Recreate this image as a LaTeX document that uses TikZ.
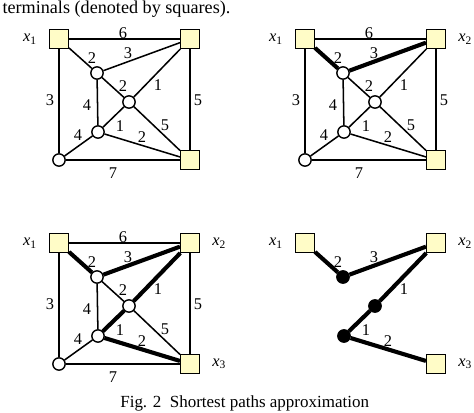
\documentclass[tikz,border=0pt]{standalone}
\usepackage{fontspec}
\setmainfont{Liberation Serif}
\usetikzlibrary{positioning}
\begin{document}
\begin{tikzpicture}[
    term/.style={draw, line width=1.2pt, fill=yellow!22, minimum size=0.56cm, inner sep=0pt},
    hub/.style={draw, line width=1.2pt, circle, fill=white, minimum size=0.37cm, inner sep=0pt},
    hubdot/.style={hub, fill=black},
    wire/.style={line width=1.3pt},
    route/.style={line width=3.5pt},
    lbl/.style={inner sep=0pt, font=\fontsize{14}{16}\selectfont},
    tlbl/.style={inner sep=0pt, font=\fontsize{14}{16}\selectfont}
  ]
  \useasboundingbox (0,0) rectangle (14.22,-12.39);

  % the three copies of the full graph
  \foreach \n/\sx/\sy in {1/1.77/-1.17, 2/9.15/-1.17, 3/1.77/-7.29} {
    \begin{scope}[shift={(\sx,\sy)}]
      \node[term] (x1\n) at (0,0) {};
      \node[term] (x2\n) at (3.93,0) {};
      \node[term] (x3\n) at (3.93,-3.63) {};
      \node[hub] (d\n) at (0,-3.63) {};
      \node[hub] (a\n) at (1.14,-1.02) {};
      \node[hub] (b\n) at (2.10,-1.89) {};
      \node[hub] (c\n) at (1.17,-2.79) {};
      \draw[wire] (x1\n) -- (x2\n);
      \draw[wire] (x2\n) -- (x3\n);
      \draw[wire] (x3\n) -- (d\n);
      \draw[wire] (d\n) -- (x1\n);
      \draw[wire] (x1\n) -- (a\n);
      \draw[wire] (a\n) -- (x2\n);
      \draw[wire] (a\n) -- (b\n);
      \draw[wire] (a\n) -- (c\n);
      \draw[wire] (b\n) -- (x2\n);
      \draw[wire] (b\n) -- (x3\n);
      \draw[wire] (c\n) -- (b\n);
      \draw[wire] (c\n) -- (d\n);
      \draw[wire] (c\n) -- (x3\n);
      \foreach \w/\lx/\ly [count=\k] in {6/1.92/0.18, 3/2.07/-0.42, 2/0.99/-0.57,
          2/1.92/-1.41, 1/2.97/-1.38, 3/-0.27/-1.83, 4/0.84/-1.98, 5/4.17/-1.83,
          5/3.18/-2.58, 1/1.83/-2.61, 4/0.57/-2.88, 2/2.49/-2.94, 7/1.62/-4.02}
        \node[lbl] (w\n-\k) at (\lx,\ly) {\w};
    \end{scope}
  }

  % the tree of shortest paths
  \begin{scope}[shift={(9.15,-7.29)}]
    \node[term] (x14) at (0,0) {};
    \node[term] (x24) at (3.93,0) {};
    \node[term] (x34) at (3.93,-3.63) {};
    \node[hubdot] (a4) at (1.14,-1.02) {};
    \node[hubdot] (b4) at (2.10,-1.89) {};
    \node[hubdot] (c4) at (1.17,-2.79) {};
    \foreach \w/\lx/\ly [count=\k] in {2/0.99/-0.57, 3/2.07/-0.42, 1/2.97/-1.38,
        1/1.83/-2.61, 2/2.49/-2.94}
      \node[lbl] (w4-\k) at (\lx,\ly) {\w};
  \end{scope}

  % paths in bold
  \draw[route] (x12) -- (a2);
  \draw[route] (a2) -- (x22);
  \foreach \n in {3,4} {
    \draw[route] (x1\n) -- (a\n);
    \draw[route] (a\n) -- (x2\n);
    \draw[route] (x2\n) -- (b\n);
    \draw[route] (b\n) -- (c\n);
    \draw[route] (c\n) -- (x3\n);
  }

  % terminal names
  \node[tlbl, left=0.36cm of x11] (t11) {\textit{x}\textsubscript{1}};
  \node[tlbl, left=0.36cm of x12] (t12) {\textit{x}\textsubscript{1}};
  \node[tlbl, right=0.36cm of x22] (t22) {\textit{x}\textsubscript{2}};
  \node[tlbl, left=0.36cm of x13] (t13) {\textit{x}\textsubscript{1}};
  \node[tlbl, right=0.36cm of x23] (t23) {\textit{x}\textsubscript{2}};
  \node[tlbl, right=0.36cm of x33] (t33) {\textit{x}\textsubscript{3}};
  \node[tlbl, left=0.36cm of x14] (t14) {\textit{x}\textsubscript{1}};
  \node[tlbl, right=0.36cm of x24] (t24) {\textit{x}\textsubscript{2}};
  \node[tlbl, right=0.36cm of x34] (t34) {\textit{x}\textsubscript{3}};

  \node[anchor=base east, inner sep=0pt, font=\fontsize{15.5}{18}\selectfont] (head)
    at (6.92,-0.40) {terminals (denoted by squares).};
  \node[anchor=base, inner sep=0pt, font=\fontsize{14.5}{17}\selectfont] (caption)
    at (7.34,-12.24) {Fig. 2\enspace Shortest paths approximation};
\end{tikzpicture}
\end{document}
